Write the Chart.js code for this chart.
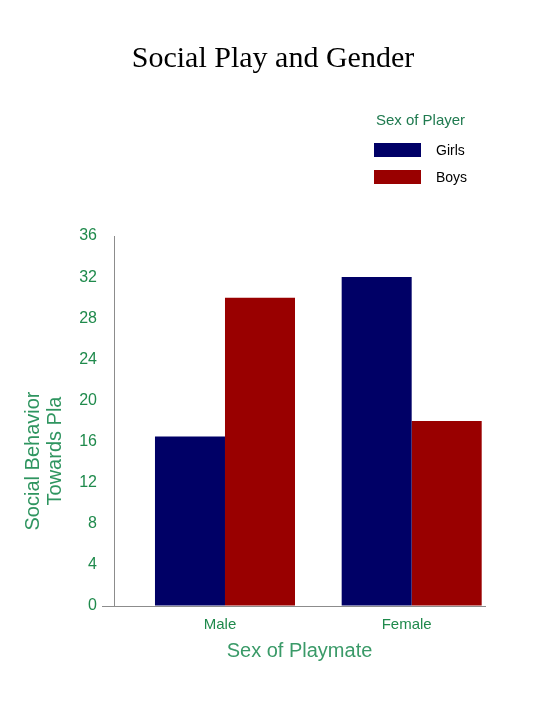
<!DOCTYPE html>
<html lang="en">
<head>
  <meta charset="UTF-8">
  <title>Social Play and Gender</title>
  <script src="https://cdn.jsdelivr.net/npm/chart.js"></script>
  <style>
    body {
      margin: 0;
      padding: 0;
      background: #fff;
      font-family: "Liberation Sans", Arial, sans-serif;
    }
    .wrap {
      position: relative;
      width: 540px;
      height: 720px;
    }
    .title {
      position: absolute;
      left: 0;
      top: 39px;
      width: 546px;
      text-align: center;
      font-family: "Liberation Serif", "Times New Roman", serif;
      font-size: 30px;
      line-height: 36px;
      color: #000;
    }
    .legend {
      position: absolute;
      left: 358px;
      top: 95px;
      width: 125px;
      height: 105px;
    }
    .legend .head {
      position: absolute;
      left: 0;
      width: 125px;
      text-align: center;
      font-size: 15px;
      line-height: 18px;
      color: #1f7a4f;
    }
    .legend .item {
      position: absolute;
      left: 16px;
      height: 14px;
      font-size: 14px;
      line-height: 14px;
      color: #000;
    }
    .legend .swatch {
      display: inline-block;
      width: 47px;
      height: 14px;
      vertical-align: top;
      margin-right: 15px;
    }
  </style>
</head>
<body>
  <div class="wrap">
    <canvas id="chart" width="540" height="720"></canvas>
    <div class="title">Social Play and Gender</div>
    <div class="legend" id="legend"></div>
  </div>
  <script>
    const playmates = ['Male', 'Female'];
    const seriesNames = ['Girls', 'Boys'];
    const girls = [16.5, 32];
    const boys = [30, 18];
    const seriesColors = ['#000066', '#990000'];
    const legendTitle = 'Sex of Player';
    const xTitle = 'Sex of Playmate';
    const yTitle = ['Social Behavior\u2003\u2003\u2003\u2003', 'Towards Pla\u2003\u2003\u2003'];

    const green = '#1f8a4c';
    const grey = '#8c8c8c';

    const datasets = [girls, boys].map((vals, i) => ({
      label: seriesNames[i],
      data: vals.map((v, j) => ({ x: j + 1, y: v })),
      backgroundColor: seriesColors[i],
      categoryPercentage: 0.75,
      barPercentage: 1
    }));

    new Chart(document.getElementById('chart'), {
      type: 'bar',
      data: { datasets: datasets },
      options: {
        responsive: false,
        animation: false,
        layout: { padding: { top: 236, left: 0, right: 55, bottom: 54 } },
        plugins: {
          legend: { display: false },
          tooltip: { enabled: false }
        },
        scales: {
          x: {
            type: 'linear',
            offset: false,
            min: 0.4055,
            max: 2.3927,
            afterFit: (scale) => { scale.height = 60; },
            grid: { display: false, drawTicks: false, offset: false },
            border: { display: true, color: grey, width: 1 },
            ticks: {
              stepSize: 1,
              includeBounds: false,
              padding: 10,
              labelOffset: -5,
              color: green,
              font: { family: 'Liberation Sans', size: 15 },
              callback: (v) => playmates[v - 1] || ''
            },
            title: {
              display: true,
              text: xTitle,
              color: '#3a9a68',
              font: { family: 'Liberation Sans', size: 20 },
              padding: { top: 0, bottom: 3 }
            }
          },
          y: {
            min: 0,
            max: 36,
            afterFit: (scale) => { scale.width = 114; },
            grid: {
              display: true,
              drawOnChartArea: false,
              drawTicks: true,
              tickLength: 12,
              color: (ctx) => ctx.tick && ctx.tick.value === 0 ? grey : 'rgba(0,0,0,0)'
            },
            border: { display: true, color: grey, width: 1 },
            ticks: {
              stepSize: 4,
              padding: 5,
              color: green,
              font: { family: 'Liberation Sans', size: 16 }
            },
            title: {
              display: true,
              text: yTitle,
              color: '#2f9560',
              font: { family: 'Liberation Sans', size: 20, lineHeight: 1.1 },
              padding: { top: 22, bottom: 0 }
            }
          }
        }
      }
    });

    // legend built from the series arrays
    const legend = document.getElementById('legend');
    const head = document.createElement('div');
    head.className = 'head';
    head.style.top = '16px';
    head.textContent = legendTitle;
    legend.appendChild(head);
    seriesNames.forEach((name, i) => {
      const item = document.createElement('div');
      item.className = 'item';
      item.style.top = (48 + i * 27) + 'px';
      item.innerHTML = '<span class="swatch" style="background:' + seriesColors[i] + '"></span>' + name;
      legend.appendChild(item);
    });
  </script>
</body>
</html>
